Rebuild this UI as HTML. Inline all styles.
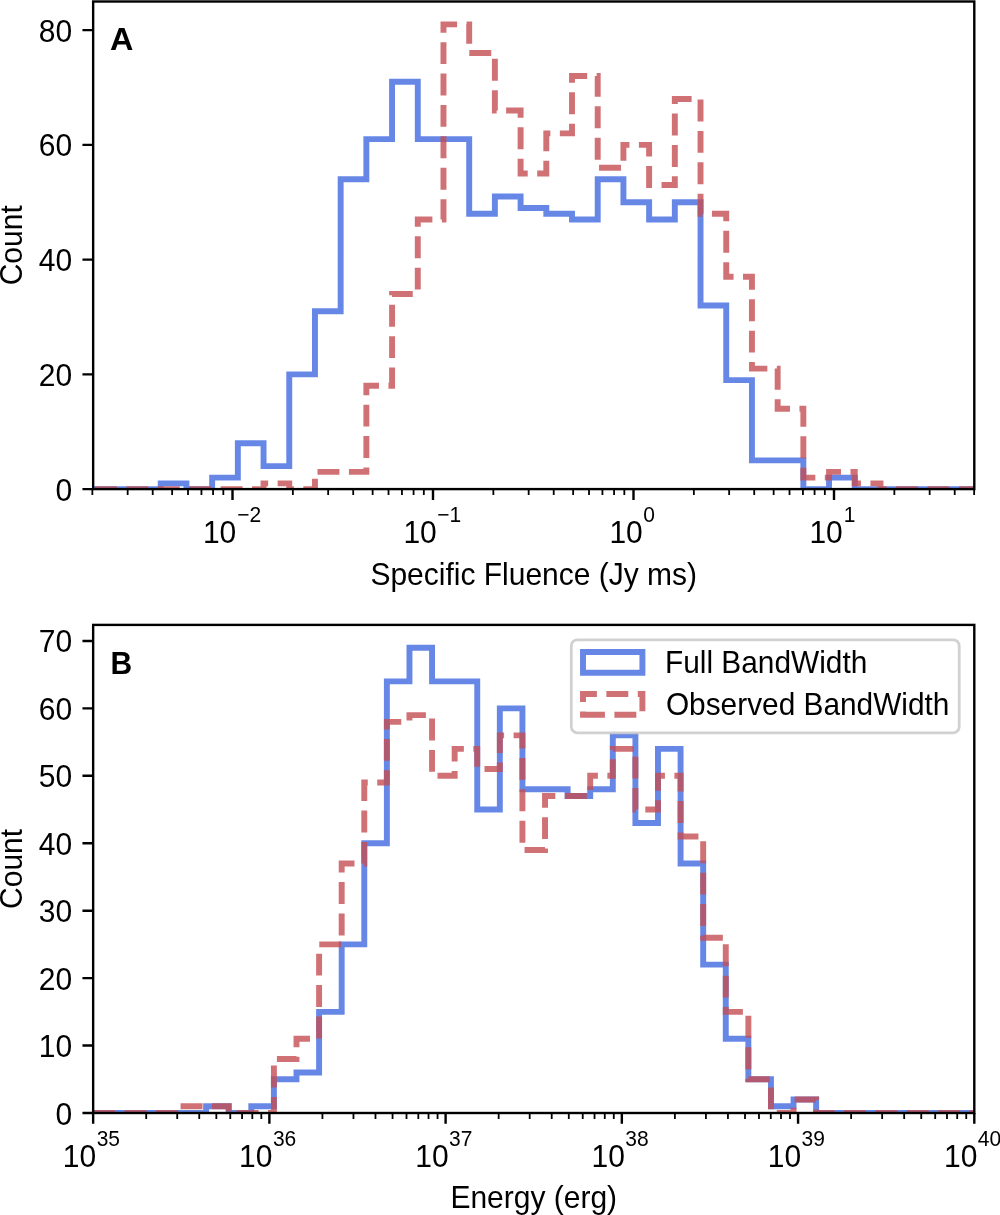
<!DOCTYPE html>
<html lang="en"><head><meta charset="utf-8"><title>Burst fluence and energy histograms</title>
<style>html,body{margin:0;padding:0;background:#fff}svg{display:block}text{font-family:"Liberation Sans",Arial,Helvetica,sans-serif;font-size:30px;fill:#000}.s{font-size:21px}.b{font-weight:bold}.sp{fill:none;stroke:#000;stroke-width:2.4;stroke-linecap:square;stroke-linejoin:miter}.mj{stroke:#000;stroke-width:2.4;fill:none}.mn{stroke:#000;stroke-width:1.8;fill:none}.h{fill:none;stroke-width:5.92;stroke-linejoin:miter;stroke-linecap:butt}.hb{stroke:#4169e1;stroke-opacity:0.8}.hr{stroke:#c44e52;stroke-opacity:0.8;stroke-dasharray:21.92 9.48}</style></head><body>
<svg width="1000" height="1215" viewBox="0 0 1000 1215">
<rect width="1000" height="1215" fill="#fff"/>
<defs><clipPath id="ca"><rect x="93.15" y="1.5" width="881.15" height="487.6"/></clipPath><clipPath id="cb"><rect x="93.15" y="624.9" width="881.15" height="488.1"/></clipPath></defs>
<g clip-path="url(#ca)">
<path class="h hb" d="M32.2 489.1 L57.91 489.1 L83.61 489.1 L109.32 489.1 L135.02 489.1 L160.73 489.1 L160.73 483.36 L186.43 483.36 L186.43 489.1 L212.14 489.1 L212.14 477.62 L237.84 477.62 L237.84 443.2 L263.55 443.2 L263.55 466.15 L289.25 466.15 L289.25 374.35 L314.96 374.35 L314.96 311.24 L340.66 311.24 L340.66 179.28 L366.37 179.28 L366.37 139.11 L392.07 139.11 L392.07 81.74 L417.78 81.74 L417.78 139.11 L443.48 139.11 L469.19 139.11 L469.19 213.7 L494.89 213.7 L494.89 196.49 L520.6 196.49 L520.6 207.96 L546.3 207.96 L546.3 213.7 L572.01 213.7 L572.01 219.44 L597.71 219.44 L597.71 179.28 L623.42 179.28 L623.42 202.23 L649.12 202.23 L649.12 219.44 L674.83 219.44 L674.83 202.23 L700.53 202.23 L700.53 305.5 L726.24 305.5 L726.24 380.09 L751.94 380.09 L751.94 460.41 L777.65 460.41 L803.35 460.41 L803.35 489.1 L829.06 489.1 L829.06 477.62 L854.76 477.62 L854.76 489.1 L880.47 489.1 L906.17 489.1 L931.88 489.1 L957.58 489.1 L983.29 489.1 L1008.99 489.1 L1034.7 489.1"/>
<path class="h hr" stroke-dashoffset="0" d="M32.2 489.1 L57.91 489.1 L83.61 489.1 L109.32 489.1 L135.02 489.1 L160.73 489.1 L186.43 489.1 L212.14 489.1 L237.84 489.1 L263.55 489.1 L263.55 483.36 L289.25 483.36 L289.25 489.1 L314.96 489.1 L314.96 471.89 L340.66 471.89 L366.37 471.89 L366.37 385.83 L392.07 385.83 L392.07 294.03 L417.78 294.03 L417.78 219.44 L443.48 219.44 L443.48 24.36 L469.19 24.36 L469.19 53.05 L494.89 53.05 L494.89 110.43 L520.6 110.43 L520.6 173.54 L546.3 173.54 L546.3 133.38 L572.01 133.38 L572.01 76 L597.71 76 L597.71 167.8 L623.42 167.8 L623.42 144.85 L649.12 144.85 L649.12 185.01 L674.83 185.01 L674.83 98.95 L700.53 98.95 L700.53 213.7 L726.24 213.7 L726.24 276.81 L751.94 276.81 L751.94 368.61 L777.65 368.61 L777.65 408.78 L803.35 408.78 L803.35 477.62 L829.06 477.62 L829.06 471.89 L854.76 471.89 L854.76 483.36 L880.47 483.36 L880.47 489.1 L906.17 489.1 L931.88 489.1 L957.58 489.1 L983.29 489.1 L1008.99 489.1 L1034.7 489.1"/>
</g>
<g clip-path="url(#cb)">
<path class="h hb" d="M93.15 1113 L115.74 1113 L138.34 1113 L160.93 1113 L183.52 1113 L206.12 1113 L206.12 1106.26 L228.71 1106.26 L228.71 1113 L251.31 1113 L251.31 1106.26 L273.9 1106.26 L273.9 1079.28 L296.49 1079.28 L296.49 1072.54 L319.09 1072.54 L319.09 1011.85 L341.68 1011.85 L341.68 944.41 L364.27 944.41 L364.27 843.26 L386.87 843.26 L386.87 681.41 L409.46 681.41 L409.46 647.69 L432.05 647.69 L432.05 681.41 L454.65 681.41 L477.24 681.41 L477.24 809.54 L499.83 809.54 L499.83 708.39 L522.43 708.39 L522.43 789.31 L545.02 789.31 L567.62 789.31 L567.62 796.05 L590.21 796.05 L590.21 789.31 L612.8 789.31 L612.8 735.36 L635.4 735.36 L635.4 823.03 L657.99 823.03 L657.99 748.85 L680.58 748.85 L680.58 863.49 L703.18 863.49 L703.18 964.64 L725.77 964.64 L725.77 1038.82 L748.36 1038.82 L748.36 1079.28 L770.96 1079.28 L770.96 1106.26 L793.55 1106.26 L793.55 1099.51 L816.14 1099.51 L816.14 1113 L838.74 1113 L861.33 1113 L883.93 1113 L906.52 1113 L929.11 1113 L951.71 1113 L974.3 1113"/>
<path class="h hr" stroke-dashoffset="0" d="M93.15 1113 L115.74 1113 L138.34 1113 L160.93 1113 L183.52 1113 L183.52 1106.26 L206.12 1106.26 L228.71 1106.26 L228.71 1113 L251.31 1113 L273.9 1113 L273.9 1059.05 L296.49 1059.05 L296.49 1038.82 L319.09 1038.82 L319.09 944.41 L341.68 944.41 L341.68 863.49 L364.27 863.49 L364.27 782.57 L386.87 782.57 L386.87 721.87 L409.46 721.87 L409.46 715.13 L432.05 715.13 L432.05 775.82 L454.65 775.82 L454.65 748.85 L477.24 748.85 L477.24 769.08 L499.83 769.08 L499.83 735.36 L522.43 735.36 L522.43 850 L545.02 850 L545.02 796.05 L567.62 796.05 L590.21 796.05 L590.21 775.82 L612.8 775.82 L612.8 748.85 L635.4 748.85 L635.4 809.54 L657.99 809.54 L657.99 775.82 L680.58 775.82 L680.58 836.51 L703.18 836.51 L703.18 937.67 L725.77 937.67 L725.77 1011.85 L748.36 1011.85 L748.36 1079.28 L770.96 1079.28 L770.96 1113 L793.55 1113 L793.55 1099.51 L816.14 1099.51 L816.14 1113 L838.74 1113 L861.33 1113 L883.93 1113 L906.52 1113 L929.11 1113 L951.71 1113 L974.3 1113"/>
</g>
<path class="mj" d="M232.5 489.1v10.8M433 489.1v10.8M633.5 489.1v10.8M834 489.1v10.8"/>
<path class="mn" d="M92.36 489.1v6M127.66 489.1v6M152.71 489.1v6M172.14 489.1v6M188.02 489.1v6M201.44 489.1v6M213.07 489.1v6M223.33 489.1v6M292.86 489.1v6M328.16 489.1v6M353.21 489.1v6M372.64 489.1v6M388.52 489.1v6M401.94 489.1v6M413.57 489.1v6M423.83 489.1v6M493.36 489.1v6M528.66 489.1v6M553.71 489.1v6M573.14 489.1v6M589.02 489.1v6M602.44 489.1v6M614.07 489.1v6M624.33 489.1v6M693.86 489.1v6M729.16 489.1v6M754.21 489.1v6M773.64 489.1v6M789.52 489.1v6M802.94 489.1v6M814.57 489.1v6M824.83 489.1v6M894.36 489.1v6M929.66 489.1v6M954.71 489.1v6M974.14 489.1v6"/>
<path class="mj" d="M93.15 489.1h-10.7M93.15 374.35h-10.7M93.15 259.6h-10.7M93.15 144.85h-10.7M93.15 30.1h-10.7"/>
<path class="mj" d="M93.15 1113v10.8M269.38 1113v10.8M445.61 1113v10.8M621.84 1113v10.8M798.07 1113v10.8M974.3 1113v10.8"/>
<path class="mn" d="M146.2 1113v6M177.23 1113v6M199.25 1113v6M216.33 1113v6M230.28 1113v6M242.08 1113v6M252.3 1113v6M261.32 1113v6M322.43 1113v6M353.46 1113v6M375.48 1113v6M392.56 1113v6M406.51 1113v6M418.31 1113v6M428.53 1113v6M437.55 1113v6M498.66 1113v6M529.69 1113v6M551.71 1113v6M568.79 1113v6M582.74 1113v6M594.54 1113v6M604.76 1113v6M613.78 1113v6M674.89 1113v6M705.92 1113v6M727.94 1113v6M745.02 1113v6M758.97 1113v6M770.77 1113v6M780.99 1113v6M790.01 1113v6M851.12 1113v6M882.15 1113v6M904.17 1113v6M921.25 1113v6M935.2 1113v6M947 1113v6M957.22 1113v6M966.24 1113v6"/>
<path class="mj" d="M93.15 1113h-10.7M93.15 1045.56h-10.7M93.15 978.13h-10.7M93.15 910.69h-10.7M93.15 843.26h-10.7M93.15 775.82h-10.7M93.15 708.39h-10.7M93.15 640.95h-10.7"/>
<rect class="sp" x="93.15" y="1.5" width="881.15" height="487.6"/>
<rect class="sp" x="93.15" y="624.9" width="881.15" height="488.1"/>
<text text-anchor="end" transform="translate(72.1 500.6) scale(1 1.075)">0</text>
<text text-anchor="end" transform="translate(72.1 385.85) scale(1 1.075)">20</text>
<text text-anchor="end" transform="translate(72.1 271.1) scale(1 1.075)">40</text>
<text text-anchor="end" transform="translate(72.1 156.35) scale(1 1.075)">60</text>
<text text-anchor="end" transform="translate(72.1 41.6) scale(1 1.075)">80</text>
<text text-anchor="end" transform="translate(72.1 1124.5) scale(1 1.075)">0</text>
<text text-anchor="end" transform="translate(72.1 1057.06) scale(1 1.075)">10</text>
<text text-anchor="end" transform="translate(72.1 989.63) scale(1 1.075)">20</text>
<text text-anchor="end" transform="translate(72.1 922.19) scale(1 1.075)">30</text>
<text text-anchor="end" transform="translate(72.1 854.76) scale(1 1.075)">40</text>
<text text-anchor="end" transform="translate(72.1 787.32) scale(1 1.075)">50</text>
<text text-anchor="end" transform="translate(72.1 719.89) scale(1 1.075)">60</text>
<text text-anchor="end" transform="translate(72.1 652.45) scale(1 1.075)">70</text>
<text transform="translate(202.95 542.7) scale(1 1.075)">10</text>
<text class="s" transform="translate(237.2 521.7) scale(1 1.03)">−2</text>
<text transform="translate(403.4 542.7) scale(1 1.075)">10</text>
<text class="s" transform="translate(437.2 521.7) scale(1 1.03)">−1</text>
<text transform="translate(609.4 542.7) scale(1 1.075)">10</text>
<text class="s" transform="translate(643.3 521.7) scale(1 1.03)">0</text>
<text transform="translate(809.4 542.7) scale(1 1.075)">10</text>
<text class="s" transform="translate(843.7 521.7) scale(1 1.03)">1</text>
<text transform="translate(62.85 1166.6) scale(1 1.075)">10</text>
<text class="s" transform="translate(96.65 1145.6) scale(1 1.03)">35</text>
<text transform="translate(239.08 1166.6) scale(1 1.075)">10</text>
<text class="s" transform="translate(272.88 1145.6) scale(1 1.03)">36</text>
<text transform="translate(415.31 1166.6) scale(1 1.075)">10</text>
<text class="s" transform="translate(449.11 1145.6) scale(1 1.03)">37</text>
<text transform="translate(591.54 1166.6) scale(1 1.075)">10</text>
<text class="s" transform="translate(625.34 1145.6) scale(1 1.03)">38</text>
<text transform="translate(767.77 1166.6) scale(1 1.075)">10</text>
<text class="s" transform="translate(801.57 1145.6) scale(1 1.03)">39</text>
<text transform="translate(944 1166.6) scale(1 1.075)">10</text>
<text class="s" transform="translate(977.8 1145.6) scale(1 1.03)">40</text>
<text text-anchor="middle" transform="translate(533.73 584.6) scale(1 1.04)">Specific Fluence (Jy ms)</text>
<text text-anchor="middle" transform="translate(533.73 1208.4) scale(1 1.04)">Energy (erg)</text>
<text text-anchor="middle" transform="translate(22.1 245.3) rotate(-90) scale(1 1.04)">Count</text>
<text text-anchor="middle" transform="translate(22.1 868.95) rotate(-90) scale(1 1.04)">Count</text>
<text class="b" transform="translate(110 50.25) scale(1.08 1.05)">A</text>
<text class="b" transform="translate(110.6 673.95) scale(1 1.05)">B</text>
<rect x="571.3" y="639.8" width="387.9" height="93" rx="6" ry="6" fill="#fff" fill-opacity="0.8" stroke="#ccc" stroke-opacity="0.9" stroke-width="2.8"/>
<path class="h hb" d="M583 672.75H642.4V652.05H583Z"/>
<path class="h hr" d="M583 714.75H642.4V694.05H583Z"/>
<text transform="translate(665 672.75) scale(0.995 1.04)">Full BandWidth</text>
<text transform="translate(665.9 714.75) scale(0.995 1.04)">Observed BandWidth</text>
</svg></body></html>
